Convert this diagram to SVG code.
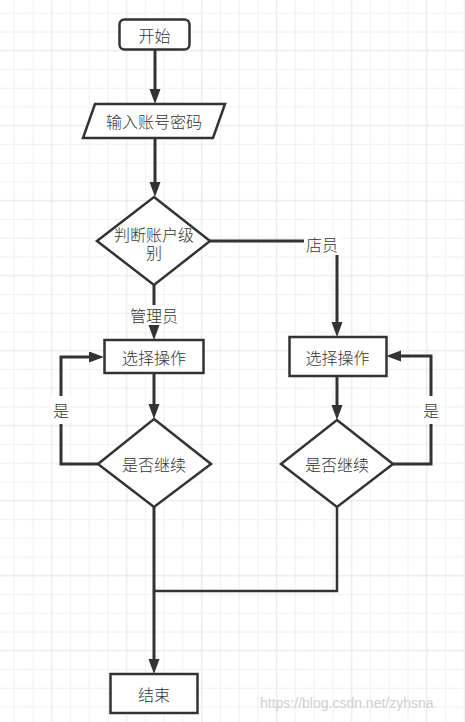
<svg xmlns="http://www.w3.org/2000/svg" width="465" height="722" viewBox="0 0 465 722">
<style>
.shape{fill:#fff;stroke:#333;stroke-width:2.5;stroke-linejoin:miter}
.conn{fill:none;stroke:#333;stroke-width:3}
.thin{fill:none;stroke:#333;stroke-width:2.5}
.t{font-family:"Noto Sans CJK SC","Noto Sans",sans-serif;font-size:16px;font-weight:300;fill:#333;text-anchor:middle;dominant-baseline:central}
.lb{fill:#fff}
.wm{font-family:"Liberation Sans",Arial,sans-serif;font-size:14px;fill:#cfcfcf}
</style>
<defs>
<pattern id="grid" patternUnits="userSpaceOnUse" x="4.825" y="3.825" width="75" height="75">
<rect x="8.875" y="0" width="1" height="75" fill="#f0f0f0"/>
<rect x="27.625" y="0" width="1" height="75" fill="#f0f0f0"/>
<rect x="65.125" y="0" width="1" height="75" fill="#f0f0f0"/>
<rect x="0" y="8.875" width="75" height="1" fill="#f0f0f0"/>
<rect x="0" y="27.625" width="75" height="1" fill="#f0f0f0"/>
<rect x="0" y="65.125" width="75" height="1" fill="#f0f0f0"/>
<rect x="46.375" y="0" width="1" height="75" fill="#e3e3e3"/>
<rect x="0" y="46.375" width="75" height="1" fill="#e3e3e3"/>
</pattern>
<marker id="arr" markerUnits="userSpaceOnUse" markerWidth="16" markerHeight="12" refX="7" refY="5.5" orient="auto">
<path d="M0,0 L15,5.5 L0,11 Z" fill="#333"/>
</marker>
</defs>
<rect width="465" height="722" fill="#fff"/>
<rect width="465" height="722" fill="url(#grid)"/>

<g id="connectors">
<path class="conn" d="M155,50 V96" marker-end="url(#arr)"/>
<path class="conn" d="M155,138 V189" marker-end="url(#arr)"/>
<path class="conn" d="M154,285 V332" marker-end="url(#arr)"/>
<path class="conn" d="M210,241 H337 V329" marker-end="url(#arr)"/>
<path class="conn" d="M154,373 V411" marker-end="url(#arr)"/>
<path class="conn" d="M337,376 V412" marker-end="url(#arr)"/>
<path class="conn" d="M98,464 H61 V357 H96" marker-end="url(#arr)"/>
<path class="conn" d="M393,464 H431 V356 H394" marker-end="url(#arr)"/>
<path class="thin" d="M337,507 V591 H154"/>
<path class="conn" d="M154,507 V666" marker-end="url(#arr)"/>
<g id="label-dianyuan">
<rect class="lb" x="304" y="232" width="37" height="23"/>
<text class="t" x="322" y="244">店员</text>
</g>
<g id="label-guanliyuan">
<rect class="lb" x="130" y="305" width="48" height="20"/>
<text class="t" x="154" y="315">管理员</text>
</g>
<g id="label-shi-left">
<rect class="lb" x="51" y="396" width="20" height="28"/>
<text class="t" x="61" y="410">是</text>
</g>
<g id="label-shi-right">
<rect class="lb" x="421" y="396" width="20" height="28"/>
<text class="t" x="431" y="410">是</text>
</g>
</g>

<g id="start">
<rect class="shape" x="119.5" y="19.5" width="70" height="30" rx="5"/>
<text class="t" x="154.5" y="35">开始</text>
</g>
<g id="input">
<path class="shape" d="M95,104 H225 L213,138 H83 Z"/>
<text class="t" x="154" y="121">输入账号密码</text>
</g>
<g id="judge">
<path class="shape" d="M154,197 L210,241 L154,285 L97,241 Z"/>
<text class="t" x="154" y="234">判断账户级<tspan x="154" dy="18">别</tspan></text>
</g>
<g id="op-left">
<rect class="shape" x="104.5" y="340" width="99" height="33"/>
<text class="t" x="154" y="356.5">选择操作</text>
</g>
<g id="op-right">
<rect class="shape" x="289.5" y="337" width="97" height="39"/>
<text class="t" x="337.5" y="356.5">选择操作</text>
</g>
<g id="cont-left">
<path class="shape" d="M154,419 L211,464 L154,507 L98,464 Z"/>
<text class="t" x="154" y="464">是否继续</text>
</g>
<g id="cont-right">
<path class="shape" d="M337,420 L393,464 L337,507 L281,464 Z"/>
<text class="t" x="337" y="464">是否继续</text>
</g>
<g id="end">
<rect class="shape" x="110.5" y="674" width="87" height="39"/>
<text class="t" x="154" y="694">结束</text>
</g>
<text class="wm" x="260" y="708">https://blog.csdn.net/zyhsna</text>
</svg>
